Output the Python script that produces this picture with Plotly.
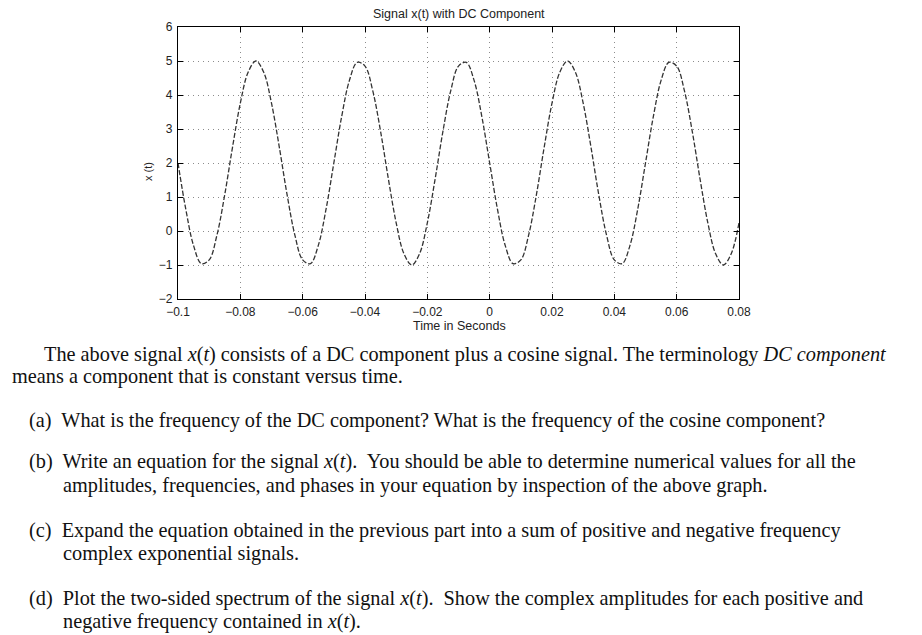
import plotly.graph_objects as go

# time samples (s) and signal values
t_start = -0.1
t_step = 0.0025
x_vals = [
    2.00, 0.64, -0.43, -0.96, -0.85, -0.12, 1.07, 2.47, 3.76, 4.67,
    5.00, 4.67, 3.76, 2.47, 1.07, -0.12, -0.85, -0.96, -0.43, 0.64,
    2.00, 3.36, 4.43, 4.96, 4.85, 4.12, 2.93, 1.53, 0.24, -0.67,
    -1.00, -0.67, 0.24, 1.53, 2.93, 4.12, 4.85, 4.96, 4.43, 3.36,
    2.00, 0.64, -0.43, -0.96, -0.85, -0.12, 1.07, 2.47, 3.76, 4.67,
    5.00, 4.67, 3.76, 2.47, 1.07, -0.12, -0.85, -0.96, -0.43, 0.64,
    2.00, 3.36, 4.43, 4.96, 4.85, 4.12, 2.93, 1.53, 0.24, -0.67,
    -1.00, -0.67, 0.24,
]
t_vals = [round(t_start + i * t_step, 6) for i in range(len(x_vals))]

x_ticks = [-0.1, -0.08, -0.06, -0.04, -0.02, 0, 0.02, 0.04, 0.06, 0.08]
x_tick_text = ["−0.1", "−0.08", "−0.06", "−0.04", "−0.02", "0", "0.02", "0.04", "0.06", "0.08"]
y_ticks = [-2, -1, 0, 1, 2, 3, 4, 5, 6]
y_tick_text = ["−2", "−1", "0", "1", "2", "3", "4", "5", "6"]

title = "Signal x(t) with DC Component"
x_label = "Time in Seconds"
y_label = "x (t)"

text_lines = [
    (42, 354, "The above signal <i>x</i>(<i>t</i>) consists of a DC component plus a cosine signal. The terminology <i>DC component</i>"),
    (10, 377, "means a component that is constant versus time."),
    (27, 420, "(a)  What is the frequency of the DC component? What is the frequency of the cosine component?"),
    (27, 461, "(b)  Write an equation for the signal <i>x</i>(<i>t</i>).  You should be able to determine numerical values for all the"),
    (61, 485, "amplitudes, frequencies, and phases in your equation by inspection of the above graph."),
    (27, 530, "(c)  Expand the equation obtained in the previous part into a sum of positive and negative frequency"),
    (61, 553, "complex exponential signals."),
    (27, 598, "(d)  Plot the two-sided spectrum of the signal <i>x</i>(<i>t</i>).  Show the complex amplitudes for each positive and"),
    (61, 621, "negative frequency contained in <i>x</i>(<i>t</i>)."),
]

W, H = 922, 635
L, R, T, B = 178, 739, 27, 299

def px_to_paper(px, py):
    return (px - L) / (R - L), (B - py) / (B - T)

fig = go.Figure()
fig.add_trace(go.Scatter(
    x=t_vals, y=x_vals, mode="lines",
    line=dict(color="#333333", width=1.3, dash="5px,2px", shape="spline", smoothing=1.0),
    hoverinfo="skip", showlegend=False,
))

sans = "Liberation Sans, Arial"
axis_common = dict(
    showline=True, linecolor="black", linewidth=1.4, mirror="ticks",
    ticks="inside", ticklen=5, tickcolor="black", tickwidth=1,
    showgrid=True, gridcolor="#8c8c8c", gridwidth=1, griddash="1px,4px",
    zeroline=False,
    tickfont=dict(family=sans, size=12, color="#222222"),
)

fig.update_xaxes(range=[-0.1, 0.08], tickvals=x_ticks, ticktext=x_tick_text, ticklabelstandoff=1, **axis_common)
fig.update_yaxes(range=[-2, 6], tickvals=y_ticks, ticktext=y_tick_text, ticklabelstandoff=2, **axis_common)

annotations = []
tx, ty = px_to_paper(459, 14)
annotations.append(dict(x=tx, y=ty, xref="paper", yref="paper", text=title, showarrow=False,
                        xanchor="center", yanchor="middle",
                        font=dict(family=sans, size=12.5, color="#222222")))
tx, ty = px_to_paper(459, 326)
annotations.append(dict(x=tx, y=ty, xref="paper", yref="paper", text=x_label, showarrow=False,
                        xanchor="center", yanchor="middle",
                        font=dict(family=sans, size=12.5, color="#222222")))
tx, ty = px_to_paper(148, 172)
annotations.append(dict(x=tx, y=ty, xref="paper", yref="paper", text=y_label, showarrow=False,
                        textangle=-90, xanchor="center", yanchor="middle",
                        font=dict(family=sans, size=11, color="#222222")))
for (px, py, s) in text_lines:
    tx, ty = px_to_paper(px, py)
    annotations.append(dict(x=tx, y=ty, xref="paper", yref="paper", text=s, showarrow=False,
                            xanchor="left", yanchor="middle", align="left",
                            font=dict(family="Liberation Serif, Times New Roman", size=20.3, color="#111111")))

fig.update_layout(
    width=W, height=H,
    margin=dict(l=L, r=W - R, t=T, b=H - B, pad=0),
    paper_bgcolor="white", plot_bgcolor="white",
    annotations=annotations,
    showlegend=False,
)

fig.write_html("out.html")
